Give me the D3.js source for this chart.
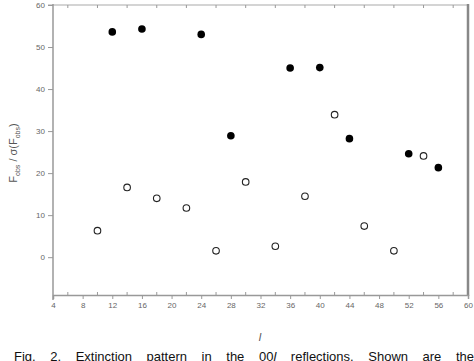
<!DOCTYPE html>
<html><head><meta charset="utf-8">
<script src="https://cdn.jsdelivr.net/npm/d3@7"></script>
<style>body{margin:0;background:#fff}svg{display:block}</style>
</head><body>
<svg id="c" width="474" height="361"></svg>
<script>
// Data
const filledL = [12, 16, 24, 28, 36, 40, 44, 52, 56];
const filledV = [53.6, 54.3, 53.0, 28.9, 45.0, 45.1, 28.2, 24.6, 21.3];
const openL = [10, 14, 18, 22, 26, 30, 34, 38, 42, 46, 50, 54];
const openV = [6.3, 16.6, 14.0, 11.7, 1.5, 17.9, 2.6, 14.5, 33.9, 7.4, 1.5, 24.1];
const xTickLabels = [4, 8, 12, 16, 20, 24, 28, 32, 36, 40, 44, 48, 52, 56, 60];
const xMinorTicks = [6, 10, 14, 18, 22, 26, 30, 34, 38, 42, 46, 50, 54, 58];
const yTickLabels = [0, 10, 20, 30, 40, 50, 60];
const captionWords = ["Fig.", "2.", "Extinction", "pattern", "in", "the", "00l", "reflections.", "Shown", "are", "the"];

const svg = d3.select("#c");
const x = d3.scaleLinear().domain([4, 60]).range([53, 468]);
const y = d3.scaleLinear().domain([-9, 60]).range([295, 5]);
const axisCol = "#999", textCol = "#666";

// frame lines
svg.append("line").attr("x1", 48).attr("x2", 468).attr("y1", y(60)).attr("y2", y(60)).attr("stroke", "#aaa").attr("stroke-width", 1.2);
svg.append("line").attr("x1", 468).attr("x2", 468).attr("y1", 4).attr("y2", 296).attr("stroke", "#888").attr("stroke-width", 2.5);

// bottom axis
const gx = svg.append("g").attr("transform", "translate(0,295)")
  .call(d3.axisBottom(x).tickValues(xTickLabels).tickSize(4).tickPadding(3).tickFormat(d3.format("d")));
gx.select(".domain").attr("stroke", axisCol).attr("stroke-width", 1.5);
gx.selectAll(".tick line").attr("stroke", axisCol);
gx.selectAll(".tick text").attr("fill", textCol).attr("font-family", "Liberation Sans, Arial, sans-serif").attr("font-size", 8);
gx.selectAll(".minor").data(xMinorTicks).enter().append("line")
  .attr("x1", d => x(d)).attr("x2", d => x(d)).attr("y1", 0).attr("y2", -3).attr("stroke", axisCol);

// top ticks
svg.append("g").selectAll("line").data(xMinorTicks).enter().append("line")
  .attr("x1", d => x(d)).attr("x2", d => x(d)).attr("y1", y(60)).attr("y2", y(60) + 3).attr("stroke", axisCol);

// left axis
const gy = svg.append("g").attr("transform", "translate(53,0)")
  .call(d3.axisLeft(y).tickValues(yTickLabels).tickSize(5).tickPadding(3).tickFormat(d3.format("d")));
gy.select(".domain").remove();
svg.append("line").attr("x1", 53).attr("x2", 53).attr("y1", 4).attr("y2", 300).attr("stroke", axisCol).attr("stroke-width", 1.5);
gy.selectAll(".tick line").attr("stroke", axisCol);
gy.selectAll(".tick text").attr("fill", textCol).attr("font-family", "Liberation Sans, Arial, sans-serif").attr("font-size", 8);

// points
const filled = filledL.map((l, i) => ({l, v: filledV[i]}));
const open = openL.map((l, i) => ({l, v: openV[i]}));
svg.append("g").selectAll("circle").data(filled).enter().append("circle")
  .attr("cx", d => x(d.l)).attr("cy", d => y(d.v)).attr("r", 3.8).attr("fill", "#000");
svg.append("g").selectAll("circle").data(open).enter().append("circle")
  .attr("cx", d => x(d.l)).attr("cy", d => y(d.v)).attr("r", 3.3).attr("fill", "#fff").attr("stroke", "#222").attr("stroke-width", 1.1);

// axis titles
svg.append("text").attr("x", 260).attr("y", 341).attr("text-anchor", "middle")
  .attr("font-family", "Liberation Sans, Arial, sans-serif").attr("font-style", "italic").attr("font-size", 11).attr("fill", "#555").text("l");

const yl = svg.append("text").attr("transform", "translate(17,153) rotate(-90)").attr("text-anchor", "middle")
  .attr("font-family", "Liberation Sans, Arial, sans-serif").attr("font-size", 11).attr("fill", "#555");
yl.append("tspan").text("F");
yl.append("tspan").attr("font-size", 7).attr("dy", 3).text("obs");
yl.append("tspan").attr("dy", -3).text(" / σ(F");
yl.append("tspan").attr("font-size", 7).attr("dy", 3).text("obs");
yl.append("tspan").attr("dy", -3).text(")");

// caption, justified
const cap = svg.append("g").attr("font-family", "Liberation Sans, Arial, sans-serif").attr("font-size", 13).attr("fill", "#111");
const ws = captionWords.map(w => {
  const t = cap.append("text").attr("y", 361);
  if (w === "00l") { t.append("tspan").text("00"); t.append("tspan").attr("font-style", "italic").text("l"); }
  else t.text(w);
  return t;
});
const widths = ws.map(t => t.node().getComputedTextLength());
const total = d3.sum(widths);
const gap = (474 - 14 - total) / (ws.length - 1);
let cx = 14;
ws.forEach((t, i) => { t.attr("x", cx); cx += widths[i] + gap; });
</script>
</body></html>
